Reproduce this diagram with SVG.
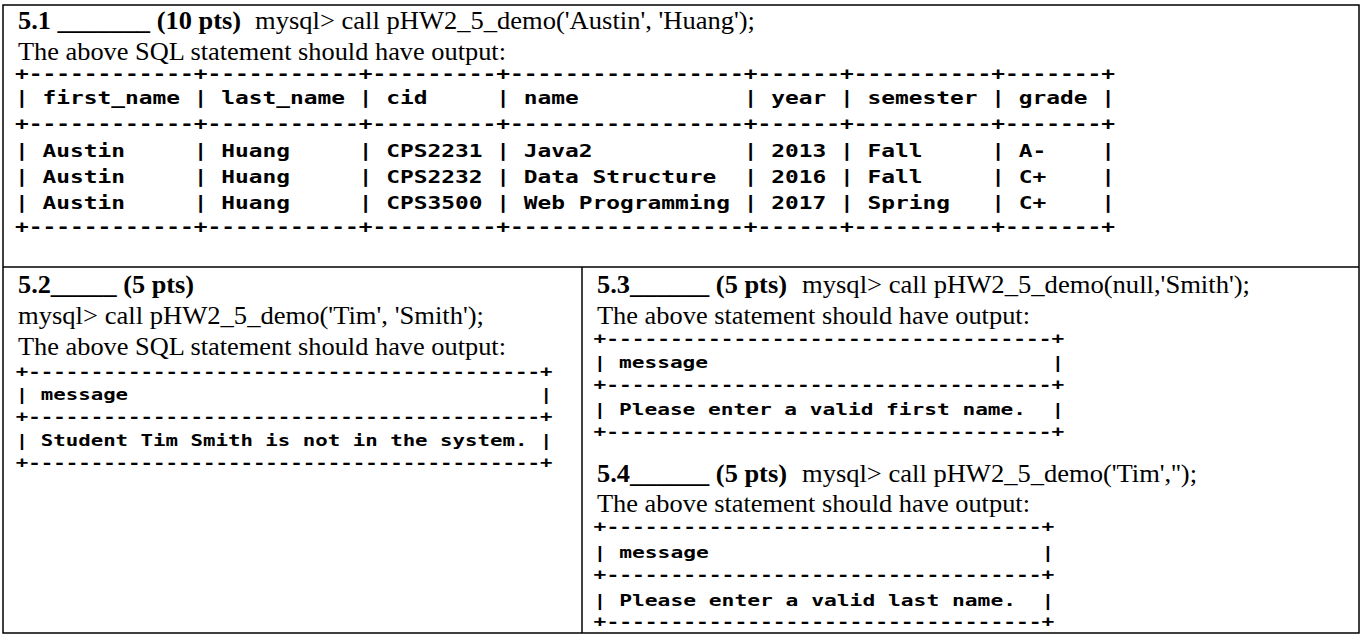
<svg xmlns="http://www.w3.org/2000/svg" width="1369" height="640" viewBox="0 0 1369 640" xml:space="preserve">
<style>
.s{font-family:"Liberation Serif","Times New Roman",serif;font-size:26px;fill:#000}
.b{font-weight:bold}
.m{font-family:"DejaVu Sans Mono","Liberation Mono",monospace;font-weight:bold;fill:#000;white-space:pre}
.m1{font-size:17px}
.m2{font-size:15.5px}
.ln{stroke:#000;stroke-width:1.5;fill:none}
</style>
<rect width="1369" height="640" fill="#fff"/>
<g id="frame">
<rect class="ln" x="3" y="5" width="1356" height="628"/>
<line class="ln" x1="3" y1="267" x2="1359" y2="267"/>
<line class="ln" x1="582" y1="267" x2="582" y2="633"/>
</g>
<g id="q51">
<text class="s b" x="18" y="29" textLength="223" lengthAdjust="spacingAndGlyphs">5.1 _______ (10 pts)</text>
<text class="s" x="255" y="29" textLength="500" lengthAdjust="spacingAndGlyphs">mysql&gt; call pHW2_5_demo('Austin', 'Huang');</text>
<text class="s" x="18" y="60" textLength="488" lengthAdjust="spacingAndGlyphs">The above SQL statement should have output:</text>
<text class="m m1" x="15" y="80" textLength="1100" lengthAdjust="spacingAndGlyphs">+------------+-----------+---------+-----------------+------+----------+-------+</text>
<text class="m m1" x="15" y="104" textLength="1100" lengthAdjust="spacingAndGlyphs">| first_name | last_name | cid     | name            | year | semester | grade |</text>
<text class="m m1" x="15" y="130" textLength="1100" lengthAdjust="spacingAndGlyphs">+------------+-----------+---------+-----------------+------+----------+-------+</text>
<text class="m m1" x="15" y="157" textLength="1100" lengthAdjust="spacingAndGlyphs">| Austin     | Huang     | CPS2231 | Java2           | 2013 | Fall     | A-    |</text>
<text class="m m1" x="15" y="183" textLength="1100" lengthAdjust="spacingAndGlyphs">| Austin     | Huang     | CPS2232 | Data Structure  | 2016 | Fall     | C+    |</text>
<text class="m m1" x="15" y="209" textLength="1100" lengthAdjust="spacingAndGlyphs">| Austin     | Huang     | CPS3500 | Web Programming | 2017 | Spring   | C+    |</text>
<text class="m m1" x="15" y="233" textLength="1100" lengthAdjust="spacingAndGlyphs">+------------+-----------+---------+-----------------+------+----------+-------+</text>
</g>
<g id="q52">
<text class="s b" x="18" y="293" textLength="176" lengthAdjust="spacingAndGlyphs">5.2_____ (5 pts)</text>
<text class="s" x="18" y="324" textLength="466" lengthAdjust="spacingAndGlyphs">mysql&gt; call pHW2_5_demo('Tim', 'Smith');</text>
<text class="s" x="18" y="355" textLength="488" lengthAdjust="spacingAndGlyphs">The above SQL statement should have output:</text>
<text class="m m2" x="15.8" y="376.5" textLength="536.6" lengthAdjust="spacingAndGlyphs">+-----------------------------------------+</text>
<text class="m m2" x="15.8" y="399.5" textLength="536.6" lengthAdjust="spacingAndGlyphs">| message                                 |</text>
<text class="m m2" x="15.8" y="421.5" textLength="536.6" lengthAdjust="spacingAndGlyphs">+-----------------------------------------+</text>
<text class="m m2" x="15.8" y="445.5" textLength="536.6" lengthAdjust="spacingAndGlyphs">| Student Tim Smith is not in the system. |</text>
<text class="m m2" x="15.8" y="467.5" textLength="536.6" lengthAdjust="spacingAndGlyphs">+-----------------------------------------+</text>
</g>
<g id="q53">
<text class="s b" x="597" y="293" textLength="190" lengthAdjust="spacingAndGlyphs">5.3______ (5 pts)</text>
<text class="s" x="802" y="293" textLength="448" lengthAdjust="spacingAndGlyphs">mysql&gt; call pHW2_5_demo(null,'Smith');</text>
<text class="s" x="597" y="324" textLength="433" lengthAdjust="spacingAndGlyphs">The above statement should have output:</text>
<text class="m m2" x="593.6" y="343.5" textLength="470.6" lengthAdjust="spacingAndGlyphs">+-----------------------------------+</text>
<text class="m m2" x="593.6" y="367.5" textLength="470.6" lengthAdjust="spacingAndGlyphs">| message                           |</text>
<text class="m m2" x="593.6" y="389.5" textLength="470.6" lengthAdjust="spacingAndGlyphs">+-----------------------------------+</text>
<text class="m m2" x="593.6" y="414.5" textLength="470.6" lengthAdjust="spacingAndGlyphs">| Please enter a valid first name.  |</text>
<text class="m m2" x="593.6" y="436.5" textLength="470.6" lengthAdjust="spacingAndGlyphs">+-----------------------------------+</text>
</g>
<g id="q54">
<text class="s b" x="597" y="482" textLength="190" lengthAdjust="spacingAndGlyphs">5.4______ (5 pts)</text>
<text class="s" x="802" y="482" textLength="395" lengthAdjust="spacingAndGlyphs">mysql&gt; call pHW2_5_demo('Tim','');</text>
<text class="s" x="597" y="512" textLength="433" lengthAdjust="spacingAndGlyphs">The above statement should have output:</text>
<text class="m m2" x="593.6" y="531.5" textLength="460.8" lengthAdjust="spacingAndGlyphs">+----------------------------------+</text>
<text class="m m2" x="593.6" y="557.5" textLength="460.8" lengthAdjust="spacingAndGlyphs">| message                          |</text>
<text class="m m2" x="593.6" y="579.5" textLength="460.8" lengthAdjust="spacingAndGlyphs">+----------------------------------+</text>
<text class="m m2" x="593.6" y="605.5" textLength="460.8" lengthAdjust="spacingAndGlyphs">| Please enter a valid last name.  |</text>
<text class="m m2" x="593.6" y="626.5" textLength="460.8" lengthAdjust="spacingAndGlyphs">+----------------------------------+</text>
</g>
</svg>
